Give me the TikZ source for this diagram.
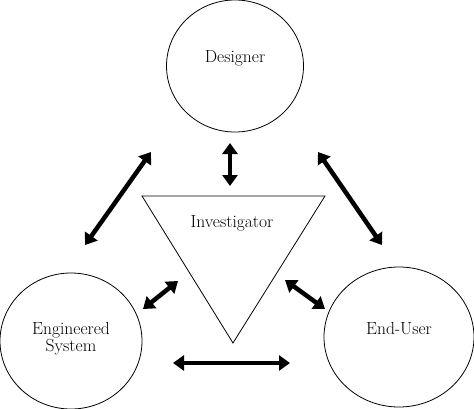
\documentclass[tikz,border=0pt]{standalone}
\usetikzlibrary{shapes.geometric,arrows.meta}
\begin{document}
\begin{tikzpicture}[x=1pt,y=-1pt,
  actor/.style={draw,ellipse,line width=0.8pt,inner sep=0pt},
  lbl/.style={font=\fontsize{17.5}{20}\selectfont,align=center},
  dbl/.style={line width=4.5pt,{Triangle[length=11pt,width=15pt]}-{Triangle[length=11pt,width=15pt]}}]
\useasboundingbox (0,0) rectangle (474,408);
\node[actor,minimum width=137pt,minimum height=132pt] (des) at (235,66) {};
\node[lbl] (destxt) at (235,58) {Designer};
\node[actor,minimum width=142pt,minimum height=136pt] (eng) at (71,341) {};
\node[lbl] (engtxt) at (71,339) {Engineered\\[-3pt]System};
\node[actor,minimum width=150pt,minimum height=140pt] (end) at (399,337) {};
\node[lbl] (endtxt) at (399,329) {End-User};
\coordinate (t1) at (142,196);
\coordinate (t2) at (325,196);
\coordinate (t3) at (233,343);
\draw[line width=0.8pt] (t1) -- (t2) -- (t3) -- cycle;
\node[lbl] (inv) at (232,223) {Investigator};
\coordinate (a1) at (230,143); \coordinate (a2) at (230,186);
\coordinate (b1) at (151,152); \coordinate (b2) at (85,245);
\coordinate (c1) at (318,152); \coordinate (c2) at (382,245);
\coordinate (d1) at (178,281); \coordinate (d2) at (143,309);
\coordinate (e1) at (285,280); \coordinate (e2) at (325,309);
\coordinate (f1) at (173,363); \coordinate (f2) at (290,363);
\draw[dbl] (a1) -- (a2);
\draw[dbl] (b1) -- (b2);
\draw[dbl] (c1) -- (c2);
\draw[dbl] (d1) -- (d2);
\draw[dbl] (e1) -- (e2);
\draw[dbl] (f1) -- (f2);
\end{tikzpicture}
\end{document}
